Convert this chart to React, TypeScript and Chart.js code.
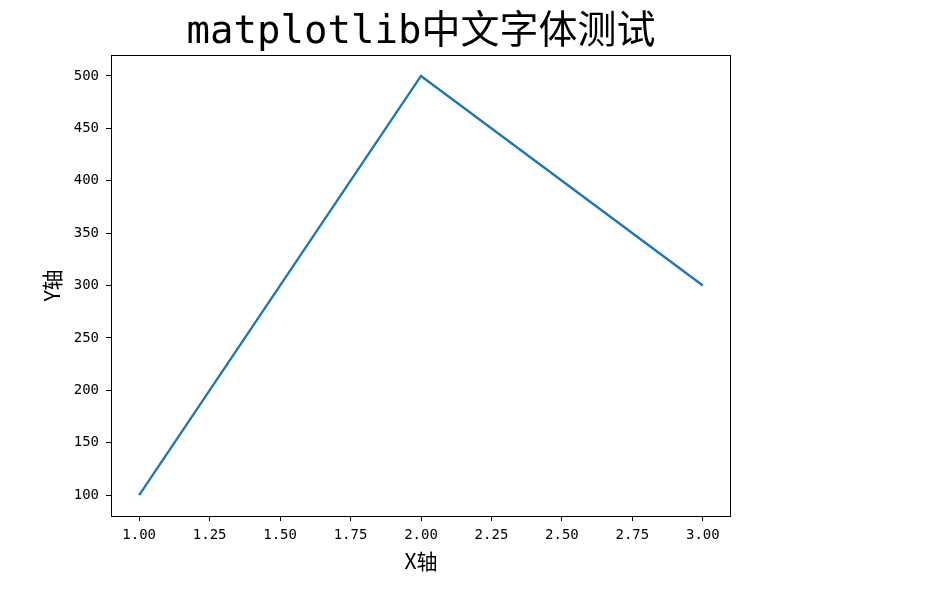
import React, { useEffect, useRef } from "react";
import { Chart, registerables } from "chart.js";

Chart.register(...registerables);

const xValues = [1, 2, 3];
const yValues = [100, 500, 300];
const xTicks = [1.0, 1.25, 1.5, 1.75, 2.0, 2.25, 2.5, 2.75, 3.0];
const yTicks = [100, 150, 200, 250, 300, 350, 400, 450, 500];
const titleText = "matplotlib中文字体测试";
const xTitle = "X轴";
const yTitle = "Y轴";

const tickFont = { family: "'DejaVu Sans Mono', 'Noto Sans CJK SC', monospace", size: 14 };
const cjkFamily = "'Noto Sans CJK SC', 'DejaVu Sans', sans-serif";
const titleFamily = "'DejaVu Sans Mono', 'Noto Sans CJK SC', monospace";

const frame = {
  id: "frame",
  afterDatasetsDraw(chart: any) {
    const { ctx, chartArea } = chart;
    const l = Math.round(chartArea.left) + 0.5;
    const t = Math.round(chartArea.top) + 0.5;
    const r = Math.round(chartArea.right) - 0.5;
    const b = Math.round(chartArea.bottom) + 0.5;
    ctx.save();
    ctx.strokeStyle = "#000";
    ctx.lineWidth = 1;
    ctx.strokeRect(l, t, r - l, b - t);
    ctx.restore();
  },
};

export default function App() {
  const ref = useRef<HTMLCanvasElement | null>(null);
  useEffect(() => {
    if (!ref.current) return;
    const chart = new Chart(ref.current, {
      type: "line",
      data: {
        datasets: [
          {
            data: xValues.map((x, i) => ({ x, y: yValues[i] })),
            borderColor: "#1f77b4",
            borderWidth: 2.4,
            pointRadius: 0,
            fill: false,
            tension: 0,
          },
        ],
      },
      options: {
        animation: false,
        responsive: false,
        maintainAspectRatio: false,
        layout: { padding: { left: 0, right: 203, top: 0, bottom: 0 } },
        plugins: {
          legend: { display: false },
          tooltip: { enabled: false },
          title: {
            display: true,
            text: titleText,
            fullSize: false,
            color: "#000",
            font: { family: titleFamily, size: 39, weight: "normal", lineHeight: 1.0 },
            padding: { top: 13, bottom: 3 },
          },
        },
        scales: {
          x: {
            type: "linear",
            min: 0.9,
            max: 3.1,
            afterBuildTicks: (s: any) => {
              s.ticks = xTicks.map((v) => ({ value: v }));
            },
            afterFit: (s: any) => {
              s.height = 84;
            },
            grid: {
              drawOnChartArea: false,
              drawTicks: true,
              tickLength: 5,
              tickColor: "#000",
              tickWidth: 1,
            },
            border: { display: false },
            ticks: {
              color: "#000",
              font: tickFont,
              padding: 6,
              maxRotation: 0,
              autoSkip: false,
              callback: (v: any) => Number(v).toFixed(2),
            },
            title: {
              display: true,
              text: xTitle,
              color: "#000",
              font: { family: cjkFamily, size: 21, lineHeight: 1.2 },
              padding: { top: 0, bottom: 26 },
            },
          },
          y: {
            type: "linear",
            min: 80,
            max: 520,
            afterBuildTicks: (s: any) => {
              s.ticks = yTicks.map((v) => ({ value: v }));
            },
            afterFit: (s: any) => {
              s.width = 111;
            },
            grid: {
              drawOnChartArea: false,
              drawTicks: true,
              tickLength: 5,
              tickColor: "#000",
              tickWidth: 1,
            },
            border: { display: false },
            ticks: {
              color: "#000",
              font: tickFont,
              padding: 7,
              autoSkip: false,
              callback: (v: any) => String(v),
            },
            title: {
              display: true,
              text: yTitle,
              color: "#000",
              font: { family: cjkFamily, size: 21, lineHeight: 1.2 },
              padding: { top: 39, bottom: 0 },
            },
          },
        },
      },
      plugins: [frame],
    });
    return () => chart.destroy();
  }, []);
  return (
    <div style={{ position: "fixed", left: 0, top: 0, width: 934, height: 600, background: "#fff" }}>
      <canvas ref={ref} width={934} height={600} style={{ width: 934, height: 600 }} />
    </div>
  );
}
